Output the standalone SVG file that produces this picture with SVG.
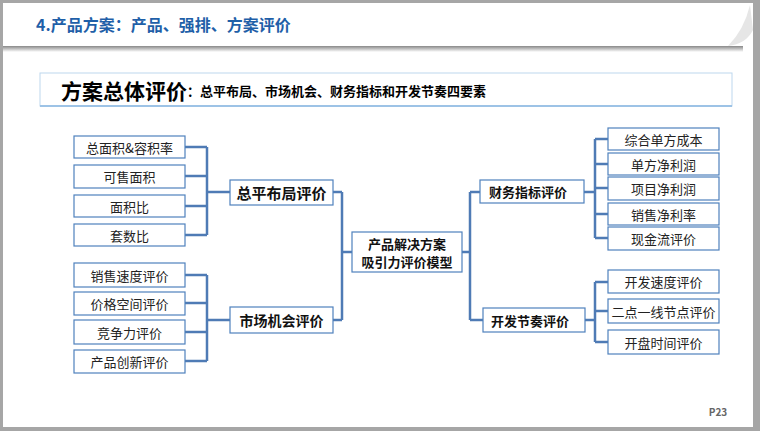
<svg xmlns="http://www.w3.org/2000/svg" width="760" height="431" viewBox="0 0 760 431">
<defs>
<linearGradient id="sh" x1="0" y1="0" x2="0" y2="1"><stop offset="0" stop-color="#888"/><stop offset="1" stop-color="#fff"/></linearGradient>
</defs>
<style>
text{font-family:"Noto Sans CJK SC","Liberation Sans",sans-serif;text-anchor:middle;dominant-baseline:central}
.b{fill:#fff;stroke:#4f81bd;stroke-width:1.2}
.t{font-size:13px;fill:#222}
.m{font-size:14px;font-weight:bold;fill:#111}
.c{fill:none;stroke:#4f7bb5;stroke-width:2.5}
</style>
<rect width="760" height="431" fill="#a6a6a6"/>
<rect x="3" y="3" width="750" height="424" fill="#fff"/>
<rect x="3" y="46" width="740" height="6" fill="url(#sh)"/>
<path d="M728 46 Q744 30 750 5 L753 30 Q746 44 728 46Z" fill="#e6e6e6"/>
<text x="36" y="24" style="text-anchor:start;font-size:16px;font-weight:bold;fill:#1f5fa8">4.产品方案：产品、强排、方案评价</text>
<rect x="40" y="73" width="692" height="33" fill="#fff" stroke="#bdd7ee" stroke-width="1"/>
<line x1="40" y1="106" x2="732" y2="106" stroke="#9dc3e6" stroke-width="2"/>
<text x="61" y="90" style="text-anchor:start;font-size:21px;font-weight:bold;fill:#000">方案总体评价<tspan style="font-size:13px">：总平布局、市场机会、财务指标和开发节奏四要素</tspan></text>
<g id="connectors">
<path class="c" d="M185 147H207M185 176H207M185 206H207M185 235H207M207 147V235M207 192H230"/>
<path class="c" d="M185 275H207M185 303H207M185 332H207M185 361H207M207 275V361M207 320H230"/>
<path class="c" d="M333 192H342M333 320H342M342 192V320M342 252H352"/>
<path class="c" d="M462 252H470M470 192V320M470 192H480M470 320H483"/>
<path class="c" d="M584 192H595M595 139V238M595 139H608M595 164H608M595 188H608M595 214H608M595 238H608"/>
<path class="c" d="M585 320H595M595 282V342M595 282H608M595 311H608M595 342H608"/>
</g>
<g id="n1"><rect class="b" x="74" y="136" width="111" height="22"/><text class="t" x="129.5" y="147">总面积&amp;容积率</text></g>
<g id="n2"><rect class="b" x="74" y="165" width="111" height="23"/><text class="t" x="129.5" y="176.5">可售面积</text></g>
<g id="n3"><rect class="b" x="74" y="195" width="111" height="22"/><text class="t" x="129.5" y="206">面积比</text></g>
<g id="n4"><rect class="b" x="74" y="224" width="111" height="22"/><text class="t" x="129.5" y="235">套数比</text></g>
<g id="n5"><rect class="b" x="74" y="263" width="111" height="24"/><text class="t" x="129.5" y="275">销售速度评价</text></g>
<g id="n6"><rect class="b" x="74" y="292" width="111" height="23"/><text class="t" x="129.5" y="303.5">价格空间评价</text></g>
<g id="n7"><rect class="b" x="74" y="320" width="111" height="24"/><text class="t" x="129.5" y="332">竞争力评价</text></g>
<g id="n8"><rect class="b" x="74" y="350" width="111" height="23"/><text class="t" x="129.5" y="361.5">产品创新评价</text></g>
<g id="m1"><rect class="b" x="230" y="180" width="103" height="25"/><text class="m" x="281.5" y="192.5" style="font-size:15px">总平布局评价</text></g>
<g id="m2"><rect class="b" x="230" y="307" width="103" height="26"/><text class="m" x="281.5" y="320">市场机会评价</text></g>
<g id="center"><rect class="b" x="352" y="232" width="110" height="40"/><text class="m" x="407" y="243" style="font-size:13px">产品解决方案</text><text class="m" x="407" y="261" style="font-size:13px">吸引力评价模型</text></g>
<g id="m3"><rect class="b" x="480" y="180" width="104" height="23"/><text class="m" x="528" y="191.5" style="font-size:13px">财务指标评价</text></g>
<g id="m4"><rect class="b" x="483" y="308" width="102" height="24"/><text class="m" x="530" y="320" style="font-size:13px">开发节奏评价</text></g>
<g id="r1"><rect class="b" x="608" y="128" width="111" height="22"/><text class="t" x="663.5" y="139">综合单方成本</text></g>
<g id="r2"><rect class="b" x="608" y="153" width="111" height="22"/><text class="t" x="663.5" y="164">单方净利润</text></g>
<g id="r3"><rect class="b" x="608" y="177" width="111" height="23"/><text class="t" x="663.5" y="188.5">项目净利润</text></g>
<g id="r4"><rect class="b" x="608" y="203" width="111" height="22"/><text class="t" x="663.5" y="214">销售净利率</text></g>
<g id="r5"><rect class="b" x="608" y="227" width="111" height="23"/><text class="t" x="663.5" y="238.5">现金流评价</text></g>
<g id="r6"><rect class="b" x="608" y="270" width="111" height="23"/><text class="t" x="663.5" y="281.5">开发速度评价</text></g>
<g id="r7"><rect class="b" x="608" y="299" width="111" height="24"/><text class="t" x="663.5" y="311">二点一线节点评价</text></g>
<g id="r8"><rect class="b" x="608" y="330" width="111" height="24"/><text class="t" x="663.5" y="342">开盘时间评价</text></g>
<text x="718" y="411" style="font-size:10px;font-weight:bold;fill:#666">P23</text>
</svg>
